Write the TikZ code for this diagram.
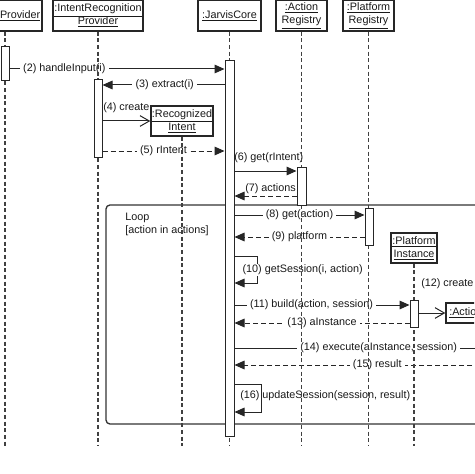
\documentclass[tikz,border=0pt]{standalone}
\usepackage{fontspec}
\setmainfont{Liberation Sans}
\usetikzlibrary{arrows.meta,fit,calc}
\pgfdeclarelayer{back}
\pgfdeclarelayer{mid}
\pgfsetlayers{back,mid,main}
\begin{document}
\begin{tikzpicture}[x=0.75pt,y=-0.75pt,
  font=\fontsize{8.1pt}{9.75pt}\selectfont,
  every node/.style={text=black!90},
  life/.style={draw=black!75, line width=0.8pt, dash pattern=on 3pt off 2pt},
  actbar/.style={draw=black!85, fill=white, line width=0.75pt, inner sep=0pt},
  headbox/.style={draw=black!85, fill=white, line width=0.9pt, inner sep=0pt},
  objbox/.style={draw=black!85, fill=white, line width=1pt, inner sep=0pt},
  msg/.style={draw=black!85, line width=0.75pt, -{Triangle[length=7.5pt,width=6.5pt]}},
  ret/.style={msg, dash pattern=on 3.75pt off 2.25pt},
  newobj/.style={draw=black!85, line width=0.75pt, -{Straight Barb[length=7pt,width=8pt]}},
  lbl/.style={fill=white, inner xsep=2.5pt, inner ysep=1pt},
  freelbl/.style={inner sep=0pt},
  loopframe/.style={draw=black!80, line width=1pt, rounded corners=3pt}
]
\path[use as bounding box] (0,0) rectangle (474,474);
\clip (0,0) rectangle (474,474);

% header boxes
\node[headbox, fit={(-31,0.5)(42,31)}] (hP) {};
\node[anchor=east, inner sep=0pt] (tP) at (40.5,16) {\underline{Provider}};
\node[headbox, fit={(53,0.5)(143,31)}] (hIRP) {};
\node[align=center, inner sep=0pt] (tIRP) at (hIRP.center) {\underline{:IntentRecognition}\\\underline{Provider}};
\node[headbox, fit={(198,0.5)(261,31)}] (hJC) {};
\node[inner sep=0pt] (tJC) at (hJC.center) {\underline{:JarvisCore}};
\node[headbox, fit={(276,0.5)(327,31)}] (hAR) {};
\node[align=center, inner sep=0pt] (tAR) at (hAR.center) {\underline{:Action}\\\underline{Registry}};
\node[headbox, fit={(343,0.5)(394,31)}] (hPR) {};
\node[align=center, inner sep=0pt] (tPR) at (hPR.center) {\underline{:Platform}\\\underline{Registry}};

% created objects
\node[objbox, fit={(151,106)(213,136)}] (hRI) {};
\node[align=center, inner sep=0pt] (tRI) at (hRI.center) {\underline{:Recognized}\\\underline{Intent}};
\node[objbox, fit={(391,233)(437,263)}] (hPI) {};
\node[align=center, inner sep=0pt] (tPI) at (hPI.center) {\underline{:Platform}\\\underline{Instance}};
\node[objbox, fit={(446,303)(510,323)}] (hAct) {};
\node[anchor=west, inner sep=0pt] (tAct) at (449,313) {\underline{:Action}};

% activation bars
\node[actbar, fit={(1,47)(9,81)}] (bP) {};
\node[actbar, fit={(94,80)(102,157)}] (bIRP) {};
\node[actbar, fit={(225,61)(234,436)}] (bJC) {};
\node[actbar, fit={(297,167)(306,205)}] (bAR) {};
\node[actbar, fit={(365,208)(373,245)}] (bPR) {};
\node[actbar, fit={(410,300)(418,327)}] (bPI) {};

\coordinate (bot) at (0,446);
\coordinate (offR) at (520,0);

% lifelines
\begin{pgfonlayer}{mid}
\draw[life] (bP.north |- hP.south) -- (bP.north);
\draw[life] (bP.south) -- (bP.south |- bot);
\draw[life] (hIRP.south) -- (hIRP.south |- bot);
\draw[life] (hJC.south) -- (hJC.south |- bot);
\draw[life] (hAR.south) -- (hAR.south |- bot);
\draw[life] (hPR.south) -- (hPR.south |- bot);
\draw[life] (hRI.south) -- (hRI.south |- bot);
\draw[life] (hPI.south) -- (hPI.south |- bot);
\end{pgfonlayer}

\begin{pgfonlayer}{back}
% loop frame
\node[loopframe, inner sep=0pt, fit={(106,205)(520,424)}] (loop) {};
\node[anchor=west, inner sep=0pt] (loopT) at (125,218) {Loop};
\node[anchor=west, inner sep=0pt] (loopG) at (125,231) {[action in actions]};

\coordinate (y2) at (0,69);
\coordinate (y3) at (0,85);
\coordinate (y4) at (0,121);
\coordinate (y5) at (0,151);
\coordinate (y6) at (0,171);
\coordinate (y7) at (0,196);
\coordinate (y8) at (0,215);
\coordinate (y9) at (0,237);
\coordinate (y10a) at (0,256);
\coordinate (y10b) at (0,283);
\coordinate (x10) at (257,0);
\coordinate (y11) at (0,305);
\coordinate (y12) at (0,313);
\coordinate (y13) at (0,323);
\coordinate (y14) at (0,348);
\coordinate (y15) at (0,365);
\coordinate (y16a) at (0,384);
\coordinate (y16b) at (0,412);
\coordinate (x16) at (261,0);

\draw[msg] (bP.east |- y2) -- node[lbl, pos=0.255] (l2) {(2) handleInput(i)} (bJC.west |- y2);
\draw[msg] (bJC.west |- y3) -- node[lbl, pos=0.49] (l3) {(3) extract(i)} (bIRP.east |- y3);
\draw[newobj] (bIRP.east |- y4) -- (hRI.west |- y4);
\node[anchor=west, freelbl] (l4) at (103,108) {(4) create};
\draw[ret] (bIRP.east |- y5) -- node[lbl, pos=0.5] (l5) {(5) rIntent} (bJC.west |- y5);
\draw[msg] (bJC.east |- y6) -- (bAR.west |- y6);
\node[anchor=west, freelbl] (l6) at (234,158) {(6) get(rIntent)};
\draw[ret] (bAR.west |- y7) -- (bJC.east |- y7);
\node[anchor=west, freelbl] (l7) at (245,189) {(7) actions};
\draw[msg] (bJC.east |- y8) -- node[lbl, pos=0.5] (l8) {(8) get(action)} (bPR.west |- y8);
\draw[ret] (bPR.west |- y9) -- node[lbl, pos=0.5] (l9) {(9) platform} (bJC.east |- y9);
\draw[msg] (bJC.east |- y10a) -- (x10 |- y10a) -- (x10 |- y10b) -- (bJC.east |- y10b);
\node[anchor=west, lbl, inner xsep=1pt] (l10) at (241,270) {(10) getSession(i, action)};
\draw[msg] (bJC.east |- y11) -- node[lbl, pos=0.44] (l11) {(11) build(action, session)} (bPI.west |- y11);
\draw[newobj] (bPI.east |- y12) -- (hAct.west |- y12);
\node[anchor=west, freelbl] (l12) at (421,284) {(12) create};
\draw[ret] (bPI.west |- y13) -- node[lbl, pos=0.5] (l13) {(13) aInstance} (bJC.east |- y13);
\draw[msg] (bJC.east |- y14) -- node[lbl, pos=0.505] (l14) {(14) execute(aInstance, session)} (offR |- y14);
\draw[ret] (offR |- y15) -- node[lbl, pos=0.5] (l15) {(15) result} (bJC.east |- y15);
\draw[msg] (bJC.east |- y16a) -- (x16 |- y16a) -- (x16 |- y16b) -- (bJC.east |- y16b);
\node[anchor=west, freelbl] (l16) at (240,396) {(16) updateSession(session, result)};
\end{pgfonlayer}
\end{tikzpicture}
\end{document}
